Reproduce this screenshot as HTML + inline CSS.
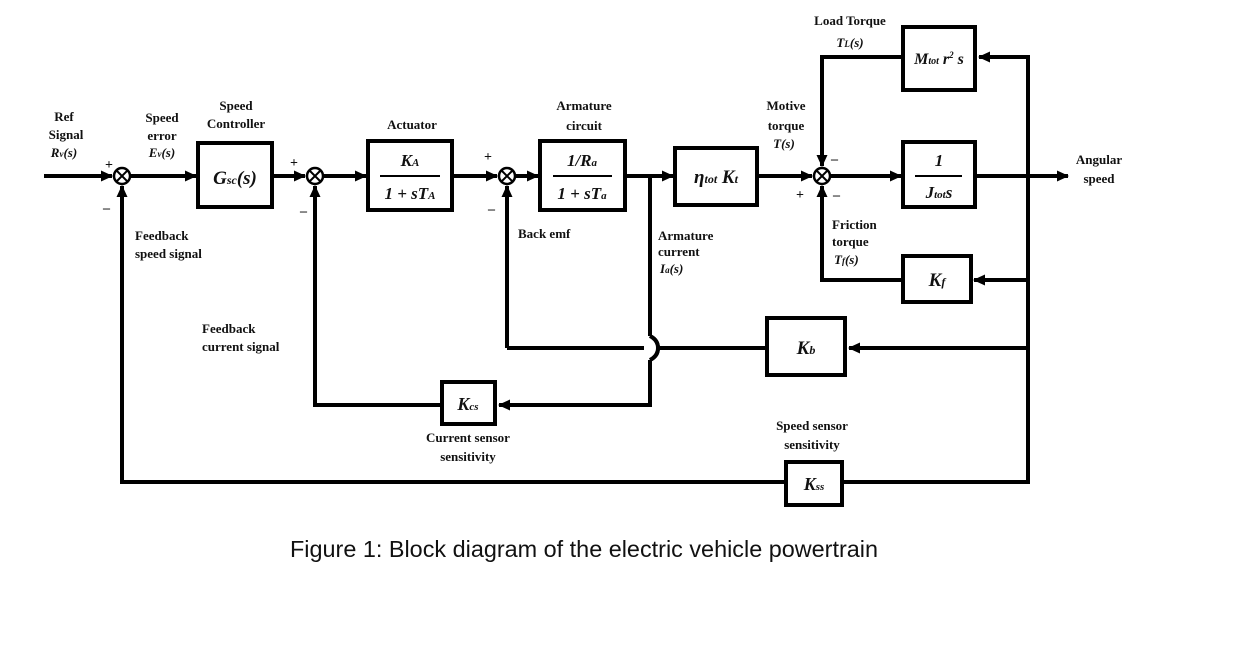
<!DOCTYPE html>
<html><head><meta charset="utf-8"><style>
html,body{margin:0;padding:0;background:#fff;}
svg{display:block}
.l{font-family:"Liberation Serif",serif;font-weight:bold;font-size:13px;fill:#111}
.i{font-family:"Liberation Serif",serif;font-weight:bold;font-style:italic;fill:#111}
</style></head><body>
<svg width="1238" height="648" viewBox="0 0 1238 648" xmlns="http://www.w3.org/2000/svg">
<defs><marker id="a" markerWidth="12" markerHeight="12" refX="11" refY="6" orient="auto" markerUnits="userSpaceOnUse"><path d="M0,0.5 L12,6 L0,11.5 z" fill="#000"/></marker></defs>
<g stroke="#000" stroke-width="4" fill="none">
<line x1="44" y1="176" x2="112" y2="176" marker-end="url(#a)"/>
<line x1="130" y1="176" x2="196" y2="176" marker-end="url(#a)"/>
<line x1="274" y1="176" x2="305" y2="176" marker-end="url(#a)"/>
<line x1="323" y1="176" x2="366" y2="176" marker-end="url(#a)"/>
<line x1="454" y1="176" x2="497" y2="176" marker-end="url(#a)"/>
<line x1="515" y1="176" x2="538" y2="176" marker-end="url(#a)"/>
<line x1="627" y1="176" x2="673" y2="176" marker-end="url(#a)"/>
<line x1="759" y1="176" x2="812" y2="176" marker-end="url(#a)"/>
<line x1="830" y1="176" x2="901" y2="176" marker-end="url(#a)"/>
<line x1="977" y1="176" x2="1068" y2="176" marker-end="url(#a)"/>
<polyline points="1028,176 1028,57 979,57" marker-end="url(#a)"/>
<line x1="1028" y1="176" x2="1028" y2="484"/>
<line x1="1028" y1="280" x2="974" y2="280" marker-end="url(#a)"/>
<line x1="1028" y1="348" x2="849" y2="348" marker-end="url(#a)"/>
<polyline points="903,57 822,57 822,166" marker-end="url(#a)"/>
<polyline points="903,280 822,280 822,186" marker-end="url(#a)"/>
<line x1="767" y1="348" x2="507" y2="348"/>
<polyline points="507,348 507,186" marker-end="url(#a)"/>
<line x1="650" y1="176" x2="650" y2="336"/>
<path d="M650,336 Q658,340 658,348 Q658,356 650,360"/>
<polyline points="650,360 650,405 499,405" marker-end="url(#a)"/>
<polyline points="442,405 315,405 315,186" marker-end="url(#a)"/>
<line x1="1028" y1="482" x2="844" y2="482"/>
<polyline points="786,482 122,482 122,186" marker-end="url(#a)"/>
<rect x="198" y="143" width="74" height="64" fill="#fff"/>
<rect x="368" y="141" width="84" height="69" fill="#fff"/>
<rect x="540" y="141" width="85" height="69" fill="#fff"/>
<rect x="675" y="148" width="82" height="57" fill="#fff"/>
<rect x="903" y="142" width="72" height="65" fill="#fff"/>
<rect x="903" y="27" width="72" height="63" fill="#fff"/>
<rect x="903" y="256" width="68" height="46" fill="#fff"/>
<rect x="767" y="318" width="78" height="57" fill="#fff"/>
<rect x="442" y="382" width="53" height="42" fill="#fff"/>
<rect x="786" y="462" width="56" height="43" fill="#fff"/>
</g>
<line x1="644" y1="348" x2="656" y2="348" stroke="#fff" stroke-width="6"/>
<path d="M650,336 Q658,340 658,348 Q658,356 650,360" stroke="#000" stroke-width="4" fill="none"/>
<g stroke="#000" stroke-width="2.5" fill="#fff">
<circle cx="122" cy="176" r="8"/><circle cx="315" cy="176" r="8"/><circle cx="507" cy="176" r="8"/><circle cx="822" cy="176" r="8"/>
</g>
<g stroke="#000" stroke-width="2">
<path d="M116,170 L128,182 M128,170 L116,182"/><path d="M309,170 L321,182 M321,170 L309,182"/><path d="M501,170 L513,182 M513,170 L501,182"/><path d="M816,170 L828,182 M828,170 L816,182"/>
<line x1="380" y1="176" x2="440" y2="176"/><line x1="553" y1="176" x2="612" y2="176"/><line x1="915" y1="176" x2="962" y2="176"/>
</g>
<g class="l">
<text x="105" y="169" font-size="14">+</text><text x="103" y="212" font-size="14">–</text>
<text x="290" y="167" font-size="14">+</text><text x="300" y="215" font-size="14">–</text>
<text x="484" y="161" font-size="14">+</text><text x="488" y="213" font-size="14">–</text>
<text x="796" y="199" font-size="14">+</text><text x="831" y="163" font-size="14">–</text><text x="833" y="199" font-size="14">–</text>
</g>
<g class="l" text-anchor="middle">
<text x="64" y="121">Ref</text><text x="66" y="139">Signal</text><text x="64" y="157" class="i">R<tspan font-size="9">v</tspan>(s)</text>
<text x="162" y="122">Speed</text><text x="162" y="140">error</text><text x="162" y="157" class="i">E<tspan font-size="9">v</tspan>(s)</text>
<text x="236" y="110">Speed</text><text x="236" y="128">Controller</text>
<text x="412" y="129">Actuator</text>
<text x="584" y="110">Armature</text><text x="584" y="130">circuit</text>
<text x="786" y="110">Motive</text><text x="786" y="130">torque</text><text x="784" y="148" class="i">T(s)</text>
<text x="850" y="25">Load Torque</text><text x="850" y="47" class="i">T<tspan font-size="9">L</tspan>(s)</text>
<text x="1099" y="164">Angular</text><text x="1099" y="183">speed</text>
<text x="468" y="442">Current sensor</text><text x="468" y="461">sensitivity</text>
<text x="812" y="430">Speed sensor</text><text x="812" y="449">sensitivity</text>
</g>
<g class="l">
<text x="135" y="240">Feedback</text><text x="135" y="258">speed signal</text>
<text x="202" y="333">Feedback</text><text x="202" y="351">current signal</text>
<text x="518" y="238">Back emf</text>
<text x="658" y="240">Armature</text><text x="658" y="256">current</text><text x="660" y="273" class="i">I<tspan font-size="9">a</tspan>(s)</text>
<text x="832" y="229">Friction</text><text x="832" y="246">torque</text><text x="834" y="264" class="i">T<tspan font-size="9">f</tspan>(s)</text>
</g>
<g class="i" text-anchor="middle">
<text x="235" y="184" font-size="19">G<tspan font-size="12">sc</tspan>(s)</text>
<text x="410" y="166" font-size="17">K<tspan font-size="11">A</tspan></text><text x="410" y="199" font-size="17">1 + sT<tspan font-size="11">A</tspan></text>
<text x="582" y="166" font-size="17">1/R<tspan font-size="11">a</tspan></text><text x="582" y="199" font-size="17">1 + sT<tspan font-size="11">a</tspan></text>
<text x="716" y="183" font-size="19">η<tspan font-size="12">tot</tspan> K<tspan font-size="12">t</tspan></text>
<text x="939" y="166" font-size="17">1</text><text x="939" y="198" font-size="17">J<tspan font-size="11">tot</tspan>s</text>
<text x="939" y="64" font-size="16">M<tspan font-size="10">tot</tspan> r<tspan font-size="9" dy="-6">2</tspan><tspan dy="6"> s</tspan></text>
<text x="937" y="286" font-size="19">K<tspan font-size="12">f</tspan></text>
<text x="806" y="354" font-size="19">K<tspan font-size="12">b</tspan></text>
<text x="468" y="410" font-size="18">K<tspan font-size="11">cs</tspan></text>
<text x="814" y="490" font-size="18">K<tspan font-size="11">ss</tspan></text>
</g>
<text x="584" y="557" text-anchor="middle" font-family="Liberation Sans, sans-serif" font-size="23" textLength="588" lengthAdjust="spacingAndGlyphs" fill="#111">Figure 1: Block diagram of the electric vehicle powertrain</text>
</svg>
</body></html>
